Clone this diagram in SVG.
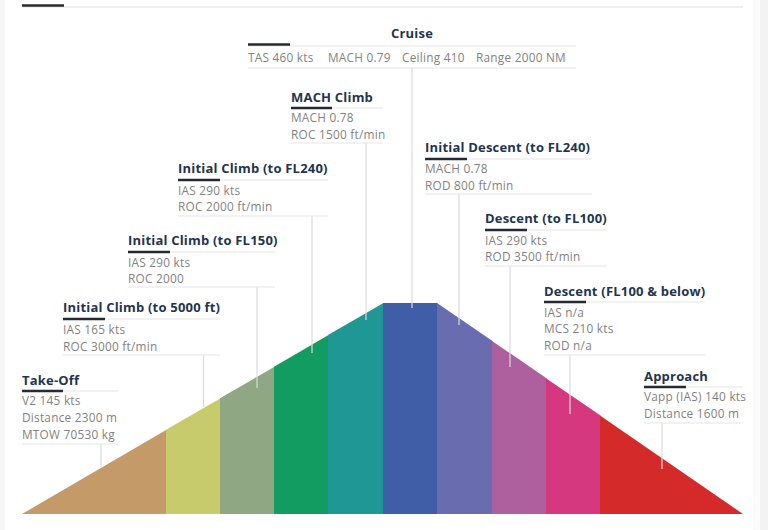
<svg xmlns="http://www.w3.org/2000/svg" width="768" height="530" viewBox="0 0 768 530">
<style>
.t{font-family:"Open Sans","Liberation Sans",sans-serif;font-weight:700;font-size:13px;letter-spacing:0.2px;fill:#1f3550}
.d{font-family:"Open Sans","Liberation Sans",sans-serif;font-size:11.8px;letter-spacing:0.25px;fill:#828282}
.ln{stroke:#e6e6e6;stroke-width:1.2;fill:none}
.ul{stroke:#262b33;stroke-width:2.6;fill:none}
.cn{stroke:#dadada;stroke-width:1.2;fill:none}
</style>
<rect x="0" y="0" width="768" height="530" fill="#ffffff"/>
<rect x="0" y="0" width="5" height="530" fill="#f6f6f6"/>
<rect x="753" y="0" width="7" height="530" fill="#fbfbfb"/>
<rect x="760" y="0" width="8" height="530" fill="#f3f3f3"/>
<g id="header">
<line x1="22" y1="7" x2="743" y2="7" stroke="#efefef" stroke-width="2"/>
<line x1="22" y1="5.5" x2="64" y2="5.5" stroke="#2b2b2b" stroke-width="2.6"/>
</g>
<g id="mountain">
<polygon points="22,514 166.5,429.8 166.5,514" fill="#c49a68"/>
<polygon points="166,514 166,429.8 220.5,398.3 220.5,514" fill="#c7cb6b"/>
<polygon points="220,514 220,398.3 274.5,366.7 274.5,514" fill="#8fa883"/>
<polygon points="274,514 274,366.7 328.5,335.1 328.5,514" fill="#139c62"/>
<polygon points="328,514 328,335.1 383.5,303 383.5,514" fill="#1f9795"/>
<polygon points="383,303 437.5,303 437.5,514 383,514" fill="#405ea8"/>
<polygon points="437,303 492.5,340.9 492.5,514 437,514" fill="#6a6cb0"/>
<polygon points="492,340.9 546.5,378.2 546.5,514 492,514" fill="#ae5f9e"/>
<polygon points="546,378.2 600.5,415.4 600.5,514 546,514" fill="#d5387e"/>
<polygon points="600,415.4 743,514 600,514" fill="#d42a2a"/>
</g>
<g id="connectors">
<line class="cn" x1="101" y1="444" x2="101" y2="467"/>
<line class="cn" x1="203.5" y1="355" x2="203.5" y2="407"/>
<line class="cn" x1="257" y1="287" x2="257" y2="388"/>
<line class="cn" x1="312" y1="216" x2="312" y2="353"/>
<line class="cn" x1="366" y1="143" x2="366" y2="320"/>
<line class="cn" x1="412" y1="68" x2="412" y2="308"/>
<line class="cn" x1="459" y1="194" x2="459" y2="325"/>
<line class="cn" x1="510" y1="266" x2="510" y2="367"/>
<line class="cn" x1="570" y1="355" x2="570" y2="414"/>
<line class="cn" x1="662" y1="423" x2="662" y2="469"/>
</g>
<g id="takeoff">
<text class="t" x="22" y="385">Take-Off</text>
<line class="ln" x1="22" y1="391" x2="118" y2="391"/>
<line class="ul" x1="22" y1="391" x2="63" y2="391"/>
<text class="d" x="22" y="405">V2 145 kts</text>
<text class="d" x="22" y="422">Distance 2300 m</text>
<text class="d" x="22" y="439">MTOW 70530 kg</text>
<line class="ln" x1="22" y1="444" x2="118" y2="444"/>
</g>
<g id="climb5000">
<text class="t" x="63" y="312">Initial Climb (to 5000 ft)</text>
<line class="ln" x1="63" y1="319" x2="220" y2="319"/>
<line class="ul" x1="63" y1="319" x2="105" y2="319"/>
<text class="d" x="63" y="334">IAS 165 kts</text>
<text class="d" x="63" y="351">ROC 3000 ft/min</text>
<line class="ln" x1="63" y1="355" x2="220" y2="355"/>
</g>
<g id="climbFL150">
<text class="t" x="128" y="245">Initial Climb (to FL150)</text>
<line class="ln" x1="128" y1="252" x2="275" y2="252"/>
<line class="ul" x1="128" y1="252" x2="170" y2="252"/>
<text class="d" x="128" y="267">IAS 290 kts</text>
<text class="d" x="128" y="283">ROC 2000</text>
<line class="ln" x1="128" y1="287" x2="275" y2="287"/>
</g>
<g id="climbFL240">
<text class="t" x="178" y="173">Initial Climb (to FL240)</text>
<line class="ln" x1="178" y1="180" x2="328" y2="180"/>
<line class="ul" x1="178" y1="180" x2="220" y2="180"/>
<text class="d" x="178" y="195">IAS 290 kts</text>
<text class="d" x="178" y="211">ROC 2000 ft/min</text>
<line class="ln" x1="178" y1="216" x2="328" y2="216"/>
</g>
<g id="machclimb">
<text class="t" x="291" y="102">MACH Climb</text>
<line class="ln" x1="291" y1="108" x2="383" y2="108"/>
<line class="ul" x1="291" y1="108" x2="332" y2="108"/>
<text class="d" x="291" y="122">MACH 0.78</text>
<text class="d" x="291" y="139">ROC 1500 ft/min</text>
<line class="ln" x1="291" y1="143" x2="383" y2="143"/>
</g>
<g id="cruise">
<text class="t" x="412" y="38" text-anchor="middle">Cruise</text>
<line class="ln" x1="248" y1="46" x2="576" y2="46"/>
<line class="ul" x1="248" y1="44.5" x2="290" y2="44.5"/>
<text class="d" x="248" y="62">TAS 460 kts</text>
<text class="d" x="328" y="62">MACH 0.79</text>
<text class="d" x="402" y="62">Ceiling 410</text>
<text class="d" x="476" y="62">Range 2000 NM</text>
<line class="ln" x1="248" y1="68" x2="576" y2="68"/>
</g>
<g id="initdescent">
<text class="t" x="425" y="152">Initial Descent (to FL240)</text>
<line class="ln" x1="425" y1="159" x2="592" y2="159"/>
<line class="ul" x1="425" y1="159" x2="467" y2="159"/>
<text class="d" x="425" y="173">MACH 0.78</text>
<text class="d" x="425" y="190">ROD 800 ft/min</text>
<line class="ln" x1="425" y1="194" x2="592" y2="194"/>
</g>
<g id="descentFL100">
<text class="t" x="485" y="223">Descent (to FL100)</text>
<line class="ln" x1="485" y1="230" x2="607" y2="230"/>
<line class="ul" x1="485" y1="230" x2="527" y2="230"/>
<text class="d" x="485" y="245">IAS 290 kts</text>
<text class="d" x="485" y="261">ROD 3500 ft/min</text>
<line class="ln" x1="485" y1="266" x2="607" y2="266"/>
</g>
<g id="descentbelow">
<text class="t" x="544" y="296">Descent (FL100 &amp; below)</text>
<line class="ln" x1="544" y1="302" x2="705" y2="302"/>
<line class="ul" x1="544" y1="302" x2="586" y2="302"/>
<text class="d" x="544" y="317">IAS n/a</text>
<text class="d" x="544" y="333">MCS 210 kts</text>
<text class="d" x="544" y="350">ROD n/a</text>
<line class="ln" x1="544" y1="355" x2="705" y2="355"/>
</g>
<g id="approach">
<text class="t" x="644" y="381">Approach</text>
<line class="ln" x1="644" y1="387" x2="743" y2="387"/>
<line class="ul" x1="644" y1="387" x2="686" y2="387"/>
<text class="d" x="644" y="401">Vapp (IAS) 140 kts</text>
<text class="d" x="644" y="418">Distance 1600 m</text>
<line class="ln" x1="644" y1="423" x2="743" y2="423"/>
</g>
</svg>
